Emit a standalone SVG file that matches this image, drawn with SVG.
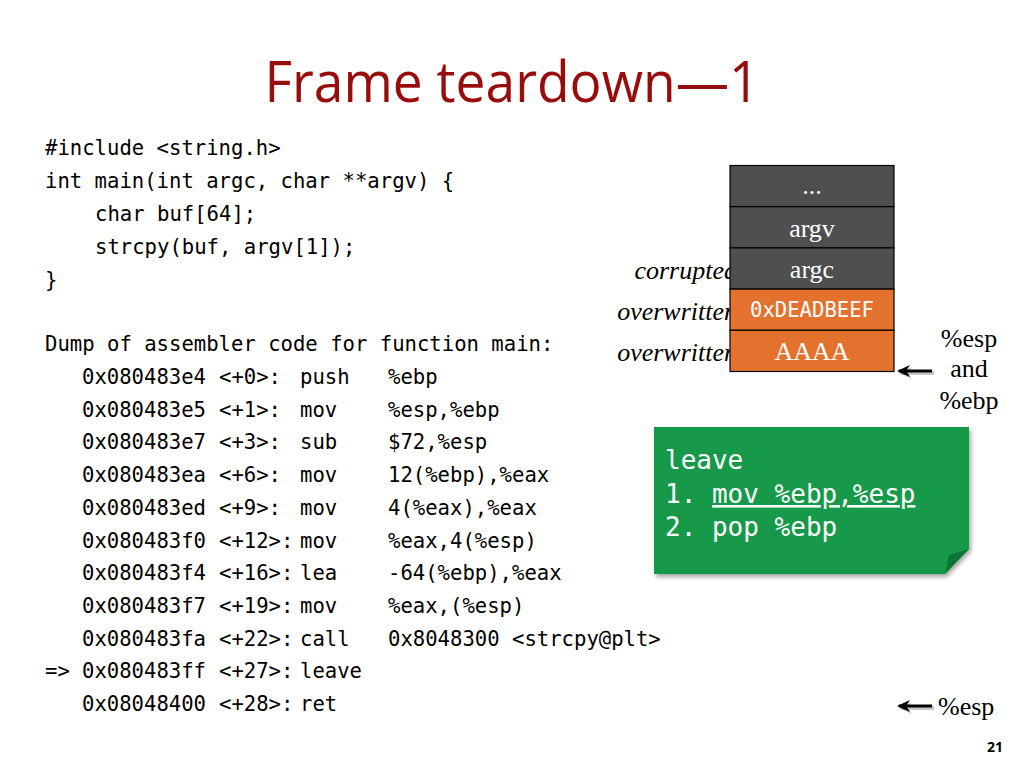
<svg xmlns="http://www.w3.org/2000/svg" width="1024" height="768" viewBox="0 0 1024 768">
<defs>
<style>
.code{font-family:"DejaVu Sans Mono","Liberation Mono",monospace;font-size:20.6px;fill:#000}
.lbl{font-family:"Liberation Serif","DejaVu Serif",serif;font-style:italic;font-size:26px;fill:#000;text-anchor:end}
.cell{font-family:"Liberation Serif","DejaVu Serif",serif;font-size:26px;fill:#fff;text-anchor:middle}
.cellmono{font-family:"DejaVu Sans Mono","Liberation Mono",monospace;font-size:20.6px;fill:#fff;text-anchor:middle}
.ptr{font-family:"Liberation Serif","DejaVu Serif",serif;font-size:26px;fill:#000}
.gray{fill:#4f4f4f;stroke:#000;stroke-width:1.2}
.orange{fill:#e4722f;stroke:#000;stroke-width:1.2}
.note{font-family:"DejaVu Sans Mono","Liberation Mono",monospace;font-size:26px;fill:#fff}
.arrow{stroke:#000;stroke-width:3;fill:none}
.arrowsh{stroke:#000;stroke-opacity:0.22;stroke-width:4;fill:none}
</style>
<marker id="ah" markerWidth="14" markerHeight="14" refX="11" refY="7" orient="auto" markerUnits="userSpaceOnUse">
<path d="M0,1 L13,7 L0,13 L4,7 Z" fill="#000"/>
</marker>
<marker id="ahs" markerWidth="14" markerHeight="14" refX="11" refY="7" orient="auto" markerUnits="userSpaceOnUse">
<path d="M0,1 L13,7 L0,13 L4,7 Z" fill="#000" fill-opacity="0.22"/>
</marker>
<filter id="sh" x="-10%" y="-10%" width="130%" height="130%">
<feDropShadow dx="2" dy="3" stdDeviation="2" flood-color="#000" flood-opacity="0.35"/>
</filter>
</defs>
<rect width="1024" height="768" fill="#fff"/>
<g id="title">
<text x="512" y="102" text-anchor="middle" font-family="'Open Sans','Liberation Sans',sans-serif" font-size="56" fill="#980c0c" textLength="495" lengthAdjust="spacingAndGlyphs">Frame teardown—1</text>
</g>
<g id="source">
<text x="45" y="155" class="code">#include &lt;string.h&gt;</text>
<text x="45" y="188" class="code">int main(int argc, char **argv) {</text>
<text x="95" y="221" class="code">char buf[64];</text>
<text x="95" y="254" class="code">strcpy(buf, argv[1]);</text>
<text x="45" y="287" class="code">}</text>
</g>
<g id="disasm">
<text x="45" y="351" class="code">Dump of assembler code for function main:</text>
<text x="82" y="384" class="code">0x080483e4</text><text x="219" y="384" class="code">&lt;+0&gt;:</text><text x="300" y="384" class="code">push</text><text x="388" y="384" class="code">%ebp</text>
<text x="82" y="417" class="code">0x080483e5</text><text x="219" y="417" class="code">&lt;+1&gt;:</text><text x="300" y="417" class="code">mov</text><text x="388" y="417" class="code">%esp,%ebp</text>
<text x="82" y="449" class="code">0x080483e7</text><text x="219" y="449" class="code">&lt;+3&gt;:</text><text x="300" y="449" class="code">sub</text><text x="388" y="449" class="code">$72,%esp</text>
<text x="82" y="482" class="code">0x080483ea</text><text x="219" y="482" class="code">&lt;+6&gt;:</text><text x="300" y="482" class="code">mov</text><text x="388" y="482" class="code">12(%ebp),%eax</text>
<text x="82" y="515" class="code">0x080483ed</text><text x="219" y="515" class="code">&lt;+9&gt;:</text><text x="300" y="515" class="code">mov</text><text x="388" y="515" class="code">4(%eax),%eax</text>
<text x="82" y="548" class="code">0x080483f0</text><text x="219" y="548" class="code">&lt;+12&gt;:</text><text x="300" y="548" class="code">mov</text><text x="388" y="548" class="code">%eax,4(%esp)</text>
<text x="82" y="580" class="code">0x080483f4</text><text x="219" y="580" class="code">&lt;+16&gt;:</text><text x="300" y="580" class="code">lea</text><text x="388" y="580" class="code">-64(%ebp),%eax</text>
<text x="82" y="613" class="code">0x080483f7</text><text x="219" y="613" class="code">&lt;+19&gt;:</text><text x="300" y="613" class="code">mov</text><text x="388" y="613" class="code">%eax,(%esp)</text>
<text x="82" y="646" class="code">0x080483fa</text><text x="219" y="646" class="code">&lt;+22&gt;:</text><text x="300" y="646" class="code">call</text><text x="388" y="646" class="code">0x8048300 &lt;strcpy@plt&gt;</text>
<text x="45" y="678" class="code">=&gt;</text><text x="82" y="678" class="code">0x080483ff</text><text x="219" y="678" class="code">&lt;+27&gt;:</text><text x="300" y="678" class="code">leave</text>
<text x="82" y="711" class="code">0x08048400</text><text x="219" y="711" class="code">&lt;+28&gt;:</text><text x="300" y="711" class="code">ret</text>
</g>
<g id="stack-labels">
<text x="737" y="279" class="lbl">corrupted</text>
<text x="737" y="320" class="lbl">overwritten</text>
<text x="737" y="361" class="lbl">overwritten</text>
</g>
<g id="stack">
<g id="cell-dots"><rect x="730" y="165.5" width="164" height="41.2" class="gray"/><text x="812" y="194" class="cell">...</text></g>
<g id="cell-argv"><rect x="730" y="206.7" width="164" height="41.2" class="gray"/><text x="812" y="237" class="cell">argv</text></g>
<g id="cell-argc"><rect x="730" y="247.9" width="164" height="41.2" class="gray"/><text x="812" y="278" class="cell">argc</text></g>
<g id="cell-deadbeef"><rect x="730" y="289.1" width="164" height="41.2" class="orange"/><text x="812" y="317" class="cellmono">0xDEADBEEF</text></g>
<g id="cell-aaaa"><rect x="730" y="330.3" width="164" height="41.2" class="orange"/><text x="812" y="360" class="cell">AAAA</text></g>
</g>
<g id="connectors">
<line x1="934" y1="373" x2="901" y2="373" class="arrowsh" marker-end="url(#ahs)"/>
<line x1="932" y1="371" x2="899" y2="371" class="arrow" marker-end="url(#ah)"/>
<line x1="934" y1="708" x2="901" y2="708" class="arrowsh" marker-end="url(#ahs)"/>
<line x1="932" y1="706" x2="899" y2="706" class="arrow" marker-end="url(#ah)"/>
</g>
<g id="ptr-esp-ebp">
<text x="969" y="347" text-anchor="middle" class="ptr">%esp</text>
<text x="969" y="377" text-anchor="middle" class="ptr">and</text>
<text x="969" y="409" text-anchor="middle" class="ptr">%ebp</text>
</g>
<g id="ptr-esp">
<text x="938" y="715" class="ptr">%esp</text>
</g>
<g id="note">
<path d="M654,427 H969 V549 L945,574 H654 Z" fill="#139a48" filter="url(#sh)"/>
<path d="M945,574 L949,555 L969,549 Z" fill="#0d7435"/>
<text x="665" y="469" class="note">leave</text>
<text x="665" y="503" class="note">1. <tspan text-decoration="underline">mov %ebp,%esp</tspan></text>
<text x="665" y="536" class="note">2. pop %ebp</text>
</g>
<g id="page">
<text x="1003" y="752" text-anchor="end" font-family="'Open Sans','Liberation Sans',sans-serif" font-weight="bold" font-size="14" fill="#000">21</text>
</g>
</svg>
